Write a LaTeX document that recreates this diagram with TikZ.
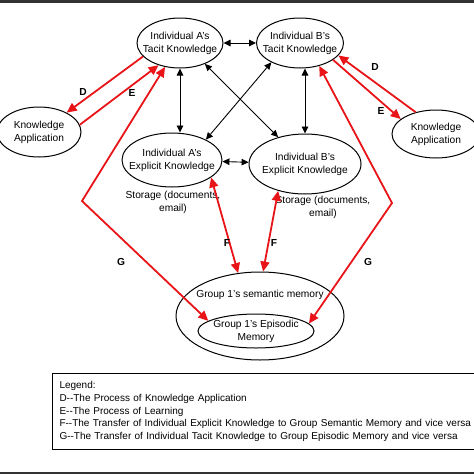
\documentclass[tikz,border=0pt]{standalone}
\usepackage{fontspec}
\setmainfont{Liberation Sans}
\usepackage{xcolor}
\usepackage{tikz}
\usetikzlibrary{positioning, shapes.geometric, arrows.meta}

\definecolor{flowred}{RGB}{232,20,24}
\definecolor{barcol}{RGB}{51,51,51}

\tikzset{
  know/.style={ellipse, draw, line width=1pt, inner xsep=-20pt, inner ysep=-10pt, align=center, font=\fontsize{10.2}{13}\selectfont},
  link/.style={line width=0.9pt, {Triangle[length=7pt,width=6.5pt]}-{Triangle[length=7pt,width=6.5pt]}},
  redflow/.style={flowred, line width=1.8pt, -{Triangle[length=10pt,width=9pt]}},
  redboth/.style={flowred, line width=1.8pt, {Triangle[length=10pt,width=9pt]}-{Triangle[length=10pt,width=9pt]}},
  tagtext/.style={font=\fontsize{10.2}{12}\selectfont\bfseries},
  storetext/.style={align=center, font=\fontsize{10.2}{13}\selectfont}
}

\begin{document}
\begin{tikzpicture}[x=1pt, y=-1pt]
    \clip (0,0) rectangle (474,474);
    % dark bars at top and bottom
    \fill[barcol] (0,0) rectangle (474,2.5);
    \fill[barcol] (0,471.5) rectangle (474,474);

    % individual knowledge
    \node[know, minimum width=86pt, minimum height=50pt] (atacit) at (180,43) {Individual A’s\\Tacit Knowledge};
    \node[know, minimum width=87pt, minimum height=50pt] (btacit) at (300,43) {Individual B’s\\Tacit Knowledge};
    \node[know, minimum width=100pt, minimum height=54pt] (aexpl) at (172,160) {Individual A’s\\Explicit Knowledge};
    \node[know, minimum width=112pt, minimum height=60pt] (bexpl) at (305,164) {Individual B’s\\Explicit Knowledge};
    \node[storetext] (astore) at (173,202) {Storage (documents,\\email)};
    \node[storetext] (bstore) at (323,207) {Storage (documents,\\email)};

    % knowledge application
    \node[know, minimum width=84pt, minimum height=50pt] (kaleft) at (39,132) {Knowledge\\Application};
    \node[know, minimum width=88pt, minimum height=48pt] (karight) at (436,134) {Knowledge\\Application};

    % group memory
    \node[know, minimum width=168pt, minimum height=88pt] (sem) at (260,316) {};
    \node[storetext] (semtext) at (260,295) {Group 1’s semantic memory};
    \node[know, minimum width=116pt, minimum height=34pt] (epi) at (256,331) {Group 1’s Episodic\\Memory};

    % black links
    \draw[link] (atacit) -- (btacit);
    \draw[link] (aexpl) -- (bexpl);
    \draw[link] (atacit.south) -- (atacit.south |- aexpl.north);
    \draw[link] (btacit.south -| bexpl.north) -- (bexpl.north);
    \draw[link] (atacit.-40) -- (bexpl.135);
    \draw[link] (btacit.214) -- (aexpl.31);

    % red processes
    \coordinate (gleft) at (82,201);
    \coordinate (gright) at (392,203);
    \draw[redflow] (atacit.200) -- (kaleft.35);
    \draw[redflow] (kaleft.10) -- (atacit.226);
    \draw[redboth] (atacit.238) -- (gleft) -- (epi.168);
    \draw[redboth] (aexpl.336) -- (sem.117);
    \draw[redboth] (bexpl.225) -- (sem.86);
    \draw[redflow] (karight.133) -- (btacit.342);
    \draw[redflow] (btacit.333) -- (karight.157);
    \draw[redboth] (btacit.310) -- (gright) -- (epi.8);

    \node[tagtext] (dleft) at (83,92) {D};
    \node[tagtext] (eleft) at (132,93) {E};
    \node[tagtext] (gltag) at (121,262) {G};
    \node[tagtext] (fleft) at (227,243) {F};
    \node[tagtext] (fright) at (274,243) {F};
    \node[tagtext] (dright) at (375,67) {D};
    \node[tagtext] (eright) at (381,111) {E};
    \node[tagtext] (grtag) at (368,262) {G};

    % legend
    \node[draw, line width=1pt, anchor=north west, minimum height=76pt, text width=440pt, inner xsep=7pt, align=left, font=\fontsize{10}{12.6}\selectfont] (legend) at (52,373)
      {Legend:\\D-{}-The Process of Knowledge Application\\E-{}-The Process of Learning\\F-{}-The Transfer of Individual Explicit Knowledge to Group Semantic Memory and vice versa\\G-{}-The Transfer of Individual Tacit Knowledge to Group Episodic Memory and vice versa};
\end{tikzpicture}
\end{document}
